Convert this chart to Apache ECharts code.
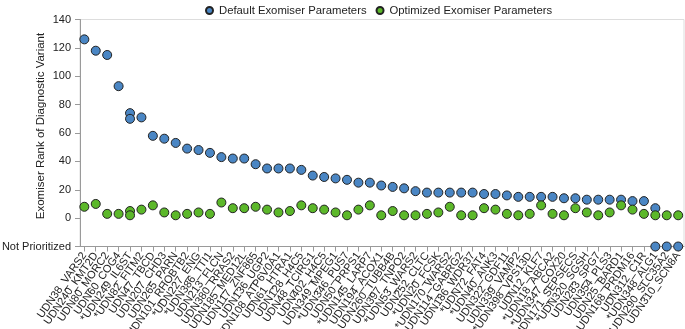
<!DOCTYPE html>
<html><head><meta charset="utf-8">
<script src="https://cdn.jsdelivr.net/npm/echarts@6/dist/echarts.min.js"></script>
<style>html,body{margin:0;padding:0;background:#fff}#c{width:685px;height:329px}</style>
</head><body><div id="c"></div>
<script>
const categories = [
  'UDN38_VARS2','UDN240_KMT2D','UDN80_MORC2','UDN60_COG4','*UDN249_IL6ST','*UDN82_FITM2','UDN47_TBCD',
  'UDN207_CHD3','UDN265_PARN','UDN101_RHOBTB2','*UDN227_ENG','*UDN386_TTI1','UDN213_FLCN','UDN380_RRAS2',
  'UDN185_MED12L','UDN117_ZNF865','UDN136_UGP2','UDN108_ATP6V0A1','UDN61_HTRA1','UDN128_H4C5','UDN48_TCIRG1',
  'UDN402_H4C5','UDN349_MPEG1','*UDN346_PUS7','UDN50_PRPS1','*UDN145_LARP7','UDN194_ACOX1','UDN260_TUBB4B',
  'UDN397_TNPO2','*UDN53_WARS2','UDN252_CLTC','*UDN20_FCSK','*UDN170_WARS2','UDN114_GABRG2','UDN186_WDR37',
  '*UDN72_FAT4','*UDN40_ANK3','UDN322_GDF11','UDN339_VAMP2','*UDN398_VPS13D','UDN12_KLF7','*UDN18_ABCA2',
  '*UDN347_COX20','*UDN171_SEPSECS','*UDN320_SGSH','UDN283_SPG7','UDN354_PLS3','UDN25_BARD1','UDN168_PRDM16',
  'UDN312_C1R','*UDN348_ALG1','UDN290_SLC35A2','UDN310_SCN8A'
];
// 'NP' = Not Prioritized; arrays = several variants for one case
const defaultRank = [126,118,115,93,[74,70],71,58,56,53,49,48,46,43,42,42,38,35,35,35,34,30,29,28,27,25,25,23,22,21,19,18,18,18,18,18,17,17,16,15,15,15,15,14,14,13,13,13,13,12,12,[7,'NP'],'NP','NP'];
const optimizedRank = [8,10,3,3,[5,2],6,9,4,2,3,4,3,11,7,7,8,6,4,5,9,7,6,4,2,6,9,2,5,2,2,3,4,8,2,2,7,6,3,2,3,9,3,2,7,4,2,4,9,6,3,2,2,2];
const yTickLabels = {'-20':'Not Prioritized'};
const NOT_PRIORITIZED = -20;

function toPoints(arr){
  const out=[];
  arr.forEach((v,i)=>{(Array.isArray(v)?v:[v]).forEach(x=>out.push([i, x==='NP'?NOT_PRIORITIZED:x]));});
  return out;
}
const axisColor = '#9a9a9a';
const font = 'Arial, "Liberation Sans", sans-serif';
const chart = echarts.init(document.getElementById('c'), null, {renderer:'canvas'});
chart.setOption({
  animation:false,
  textStyle:{fontFamily:font},
  legend:{top:0,left:200,itemWidth:9,itemHeight:7,itemGap:9,
    textStyle:{fontSize:11.3,color:'#222'},
    data:['Default Exomiser Parameters','Optimized Exomiser Parameters']},
  grid:[
    {left:80,right:1,top:19.5,bottom:82.5,show:true,borderColor:'#dddddd',borderWidth:1,outerBoundsMode:'none',containLabel:false},
    {left:84.3,right:6.7,top:19.5,bottom:82.5,show:false,outerBoundsMode:'none',containLabel:false}
  ],
  xAxis:[
    {type:'value',gridIndex:0,min:-0.38,max:52.51,splitLine:{show:false},
     axisLine:{show:true,onZero:false,lineStyle:{color:axisColor}},
     axisTick:{show:false},axisLabel:{show:false}},
    {type:'category',gridIndex:1,data:categories,boundaryGap:false,position:'bottom',
     axisLine:{show:false,onZero:false},
     axisTick:{show:true,interval:0,length:5,lineStyle:{color:axisColor}},
     axisLabel:{interval:0,rotate:55,fontSize:11,color:'#222',margin:7}}
  ],
  yAxis:[
    {type:'value',gridIndex:0,min:-20,max:140,interval:20,splitLine:{show:false},
     axisLine:{show:true,onZero:false,lineStyle:{color:axisColor}},
     axisTick:{show:true,length:5,lineStyle:{color:axisColor}},
     axisLabel:{fontSize:11,color:'#222',margin:9,showMinLabel:true,showMaxLabel:true,
       formatter:v=>yTickLabels[String(v)]||String(v)}},
    {type:'value',gridIndex:1,min:-20,max:140,show:false}
  ],
  graphic:[{type:'text',x:40.7,y:126,rotation:Math.PI/2,
    style:{text:'Exomiser Rank of Diagnostic Variant',font:'11.5px '+font,fill:'#222',align:'center',verticalAlign:'middle'}}],
  series:[
    {type:'scatter',name:'Default Exomiser Parameters',xAxisIndex:0,yAxisIndex:0,data:toPoints(defaultRank),symbolSize:9,
     itemStyle:{color:'#4a86c4',borderColor:'#222',borderWidth:1,opacity:1}},
    {type:'scatter',name:'Optimized Exomiser Parameters',xAxisIndex:0,yAxisIndex:0,data:toPoints(optimizedRank),symbolSize:9,
     itemStyle:{color:'#5cb82a',borderColor:'#222',borderWidth:1,opacity:1}}
  ]
});
</script></body></html>
